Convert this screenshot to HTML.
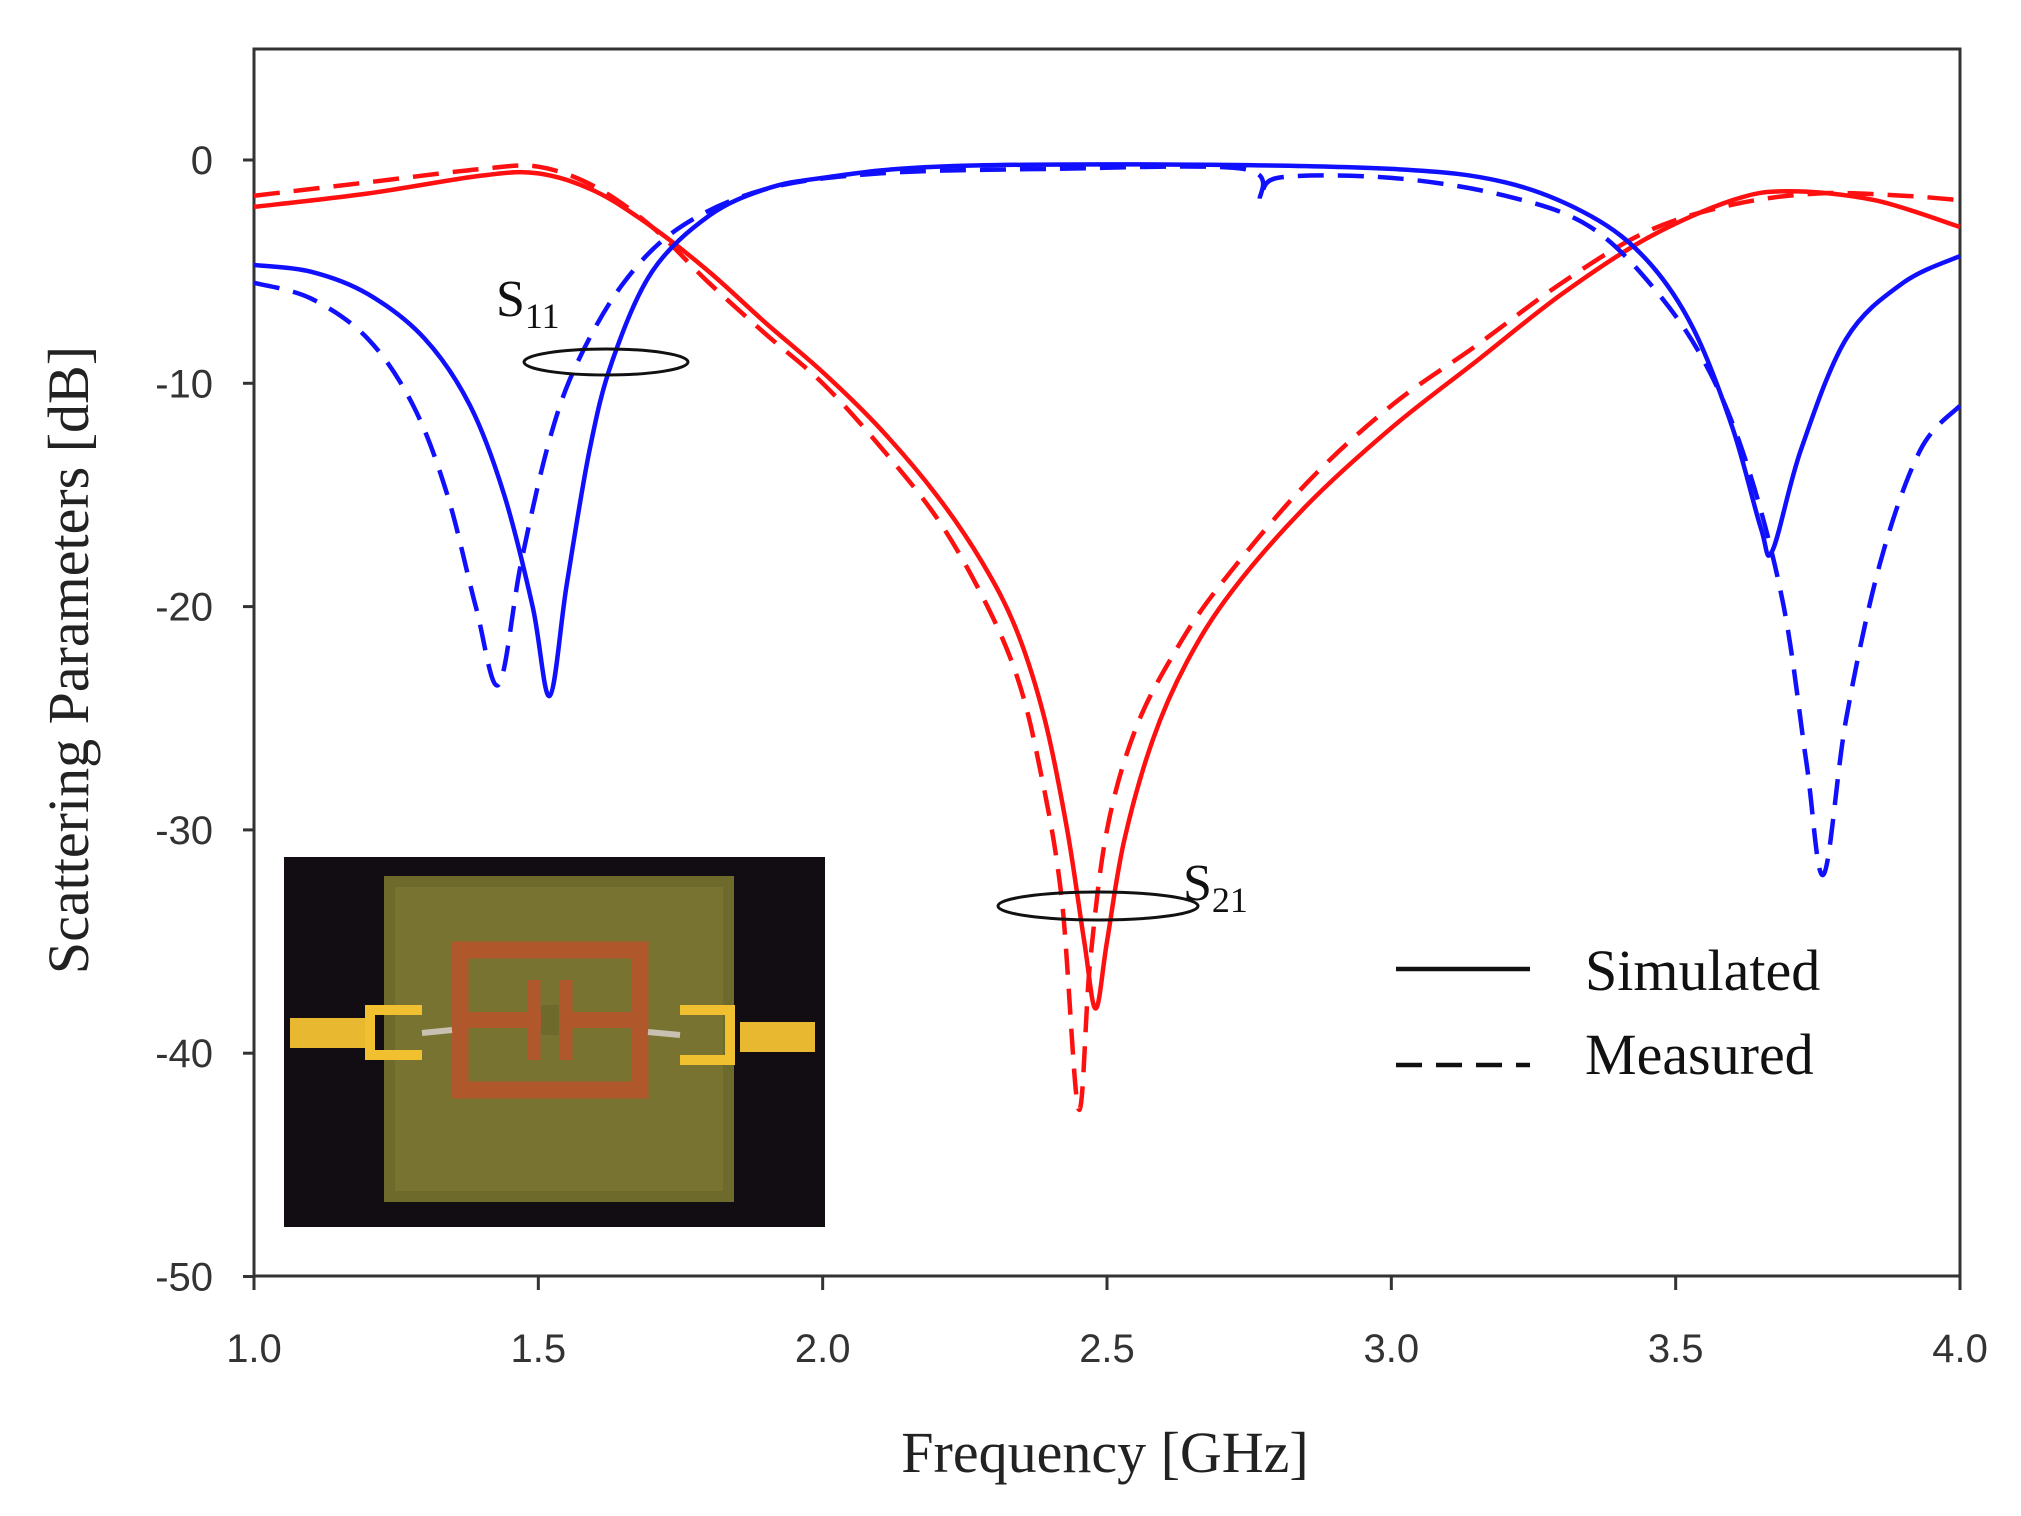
<!DOCTYPE html>
<html><head><meta charset="utf-8"><style>
html,body{margin:0;padding:0;background:#fff;}
svg{display:block;}
</style></head><body>
<svg id="s" width="2021" height="1516" viewBox="0 0 2021 1516" xmlns="http://www.w3.org/2000/svg">
<rect width="2021" height="1516" fill="#fff"/>
<g>
<rect x="284" y="857" width="541" height="370" fill="#120d12"/>
<rect x="384" y="876" width="350" height="326" fill="#6e6a2c"/>
<rect x="395" y="887" width="328" height="304" fill="#7d7735" opacity="0.7"/>
<rect x="460" y="950" width="180" height="140" fill="none" stroke="#b0582c" stroke-width="17"/>
<line x1="460" y1="1020" x2="640" y2="1020" stroke="#b0582c" stroke-width="16"/>
<line x1="534" y1="980" x2="534" y2="1060" stroke="#b0582c" stroke-width="13"/>
<line x1="566" y1="980" x2="566" y2="1060" stroke="#b0582c" stroke-width="13"/>
<rect x="541" y="1005" width="18" height="30" fill="#6e6a2c"/>
<rect x="290" y="1018" width="80" height="30" fill="#e8b830"/>
<path d="M422 1010 H370 V1055 H422" fill="none" stroke="#f0c030" stroke-width="10"/>
<rect x="740" y="1022" width="75" height="30" fill="#e8b830"/>
<path d="M680 1010 H730 V1060 H680" fill="none" stroke="#f0c030" stroke-width="10"/>
<line x1="422" y1="1033" x2="452" y2="1030" stroke="#c8c0b0" stroke-width="6"/>
<line x1="648" y1="1032" x2="680" y2="1035" stroke="#c8c0b0" stroke-width="6"/>
</g>
<rect x="254" y="49" width="1706" height="1227" fill="none" stroke="#333" stroke-width="3"/>
<g id="ticks" stroke="#333" stroke-width="3"></g>
<g id="labels" font-family="Liberation Sans, sans-serif" font-size="40" fill="#333"></g>
<g id="curves" fill="none" stroke-width="4.5"></g>
<text x="496" y="316" font-family="Liberation Serif, serif" font-size="52" fill="#111">S<tspan font-size="36" dy="12">11</tspan></text>
<ellipse cx="606" cy="362" rx="82" ry="13" fill="none" stroke="#111" stroke-width="3"/>
<text x="1183" y="900" font-family="Liberation Serif, serif" font-size="52" fill="#111">S<tspan font-size="36" dy="12">21</tspan></text>
<ellipse cx="1098" cy="906" rx="100" ry="14" fill="none" stroke="#111" stroke-width="3"/>
<line x1="1396" y1="969" x2="1530" y2="969" stroke="#111" stroke-width="4.5"/>
<line x1="1396" y1="1065" x2="1530" y2="1065" stroke="#111" stroke-width="4.5" stroke-dasharray="26,14"/>
<text x="1585" y="990" font-family="Liberation Serif, serif" font-size="58" fill="#111">Simulated</text>
<text x="1585" y="1074" font-family="Liberation Serif, serif" font-size="58" fill="#111">Measured</text>
<text x="1105" y="1472" text-anchor="middle" font-family="Liberation Serif, serif" font-size="58" fill="#222">Frequency [GHz]</text>
<text transform="translate(88,660) rotate(-90)" text-anchor="middle" font-family="Liberation Serif, serif" font-size="58" fill="#222">Scattering Parameters [dB]</text>
</svg>
<script>
var NS="http://www.w3.org/2000/svg";
function X(f){return 254+(f-1)*568.67;}
function Y(d){return 160-d*22.33;}
function el(t,a,p){var e=document.createElementNS(NS,t);for(var k in a)e.setAttribute(k,a[k]);p.appendChild(e);return e;}
var tk=document.getElementById('ticks'),lb=document.getElementById('labels');
for(var d=0;d>=-50;d-=10){var y=Y(d);el('line',{x1:243,y1:y,x2:254,y2:y},tk);var t=el('text',{x:213,y:y+14,'text-anchor':'end'},lb);t.textContent=String(d);}
for(var i=0;i<=6;i++){var f=1+i*0.5,x=X(f);el('line',{x1:x,y1:1276,x2:x,y2:1290},tk);var t=el('text',{x:x,y:1362,'text-anchor':'middle'},lb);t.textContent=f.toFixed(1);}
function path(pts){var p=pts.map(function(q){return [X(q[0]),Y(q[1])];});var s="M"+p[0][0]+" "+p[0][1];
for(var i=0;i<p.length-1;i++){var p0=p[i-1]||p[i],p1=p[i],p2=p[i+1],p3=p[i+2]||p2;var k=6;
var c1=[p1[0]+(p2[0]-p0[0])/k,p1[1]+(p2[1]-p0[1])/k],c2=[p2[0]-(p3[0]-p1[0])/k,p2[1]-(p3[1]-p1[1])/k];
s+=" C"+c1[0]+" "+c1[1]+" "+c2[0]+" "+c2[1]+" "+p2[0]+" "+p2[1];}return s;}
var cv=document.getElementById('curves');
var s11s=[[1,-4.7],[1.1,-5],[1.2,-6],[1.3,-8],[1.38,-11],[1.44,-15],[1.49,-20],[1.52,-24],[1.55,-19],[1.59,-13],[1.63,-9],[1.7,-5],[1.8,-2.5],[1.9,-1.3],[2.0,-0.8],[2.2,-0.3],[2.6,-0.2],[3.0,-0.4],[3.2,-1],[3.35,-2.5],[3.45,-4.5],[3.53,-7.5],[3.6,-12],[3.65,-16.5],[3.67,-17.5],[3.72,-13],[3.8,-8],[3.9,-5.5],[4.0,-4.3]];
var s11m=[[1,-5.5],[1.1,-6.2],[1.2,-8],[1.28,-11],[1.34,-15],[1.39,-20],[1.43,-23.5],[1.47,-18],[1.52,-12.5],[1.57,-9],[1.65,-5.5],[1.75,-3],[1.9,-1.3],[2.1,-0.6],[2.4,-0.4],[2.74,-0.4],[2.77,-1.8],[2.8,-0.8],[3.0,-0.8],[3.2,-1.6],[3.35,-3],[3.47,-6],[3.56,-9.5],[3.63,-14],[3.69,-20],[3.73,-27],[3.76,-32],[3.8,-25],[3.86,-18],[3.93,-13],[4.0,-11]];
var s21s=[[1,-2.1],[1.2,-1.5],[1.4,-0.7],[1.5,-0.6],[1.6,-1.4],[1.7,-3],[1.8,-5],[1.9,-7.3],[2.0,-9.5],[2.1,-12],[2.2,-15],[2.28,-18],[2.34,-21],[2.39,-25],[2.43,-30],[2.46,-35],[2.48,-38],[2.5,-35],[2.53,-30.5],[2.58,-26],[2.64,-22.5],[2.72,-19.3],[2.85,-15.5],[3.0,-12],[3.15,-9],[3.3,-6],[3.45,-3.5],[3.6,-1.8],[3.7,-1.4],[3.85,-1.8],[4.0,-3]];
var s21m=[[1,-1.6],[1.2,-1],[1.4,-0.4],[1.5,-0.3],[1.6,-1.2],[1.7,-3],[1.8,-5.5],[1.9,-7.8],[2.0,-10],[2.1,-12.8],[2.2,-16],[2.28,-19.5],[2.34,-23],[2.38,-27],[2.42,-33],[2.45,-42.5],[2.47,-36],[2.5,-30],[2.55,-25.5],[2.62,-22],[2.7,-19],[2.85,-14.5],[3.0,-11],[3.15,-8.3],[3.3,-5.5],[3.45,-3.2],[3.6,-2],[3.75,-1.5],[3.9,-1.6],[4.0,-1.8]];
el('path',{d:path(s21s),stroke:'#ff1010'},cv);
el('path',{d:path(s21m),stroke:'#ff1010','stroke-dasharray':'26,14'},cv);
el('path',{d:path(s11s),stroke:'#1010ff'},cv);
el('path',{d:path(s11m),stroke:'#1010ff','stroke-dasharray':'26,14'},cv);
</script>
</body></html>
